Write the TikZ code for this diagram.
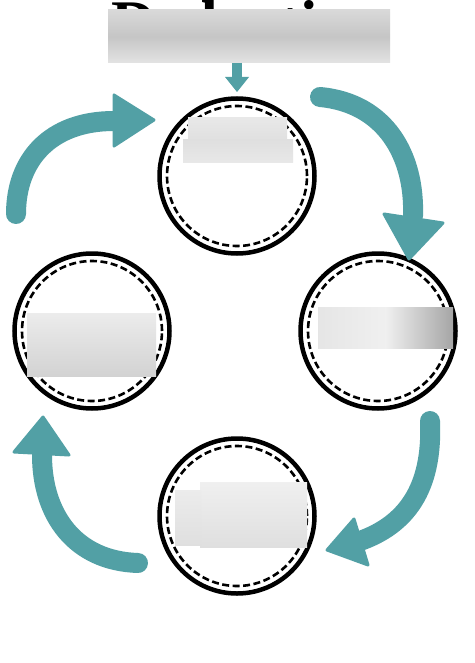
\documentclass[tikz,border=0pt]{standalone}
\usepackage{fontspec}
\setmainfont{Liberation Serif}
\definecolor{teal1}{RGB}{82,160,165}
\tikzset{
  ring/.style={circle, draw=black, line width=4.5pt, minimum size=155pt, inner sep=0pt, fill=white},
  dashring/.style={draw=black, line width=2.6pt, dash pattern=on 7pt off 3.5pt},
  shaft/.style={draw=teal1, line width=20pt, line cap=round},
  headtip/.style={fill=teal1, draw=teal1, line width=3pt, line join=round},
  blurbox/.style={draw=none},
}
\begin{document}
\begin{tikzpicture}[x=1pt,y=-1pt]
\useasboundingbox[fill=white] (0,0) rectangle (474,663);
% title (mostly covered)
\node[anchor=base west, inner sep=0pt, font=\fontsize{62}{70}\selectfont\bfseries] (title) at (111,44) {Deduction};
\shade[blurbox, top color=gray!30, bottom color=gray!22, middle color=gray!45] (108,10) rectangle (390,63);
\coordinate (tb) at (237,63);
% circles
\node[ring] (c1) at (237,176) {};
\node[ring] (c2) at (378,331) {};
\node[ring] (c3) at (237,516) {};
\node[ring] (c4) at (92,331) {};
\foreach \c in {c1,c2,c3,c4} \draw[dashring] (\c.center) circle (70pt);
% blurred labels
\shade[blurbox, top color=gray!18, bottom color=gray!25] (188,118) rectangle (287,142);
\shade[blurbox, top color=gray!25, bottom color=gray!18] (183,140) rectangle (293,163);
\shade[blurbox, top color=gray!15, bottom color=gray!35] (27,313) rectangle (156,376);
\shade[blurbox, left color=gray!20, right color=gray!70, middle color=gray!12] (318,307) rectangle (453,348);
\shade[blurbox, top color=gray!12, bottom color=gray!25] (200,482) rectangle (307,547);
\shade[blurbox, top color=gray!15, bottom color=gray!25] (175,490) rectangle (201,545);
% small top arrow
\draw[draw=teal1, line width=10pt] (tb) -- (237,79);
\fill[teal1] (225,77) -- (249,77) -- (237,92) -- cycle;
% arrow coordinates
\coordinate (a1s) at (16,214);  \coordinate (a1e) at (114,121);
\coordinate (a2s) at (320,97);  \coordinate (a2e) at (413,216);
\coordinate (a3s) at (430,421); \coordinate (a3e) at (360,541);
\coordinate (a4s) at (138,563); \coordinate (a4e) at (42,455);
% top-left arrow
\draw[shaft] (a1s) .. controls (16,160) and (50,121) .. (a1e);
\draw[headtip] (114,95) -- (154,120) -- (114,146) -- cycle;
% top-right arrow
\draw[shaft] (a2s) .. controls (385,103) and (415,155) .. (a2e);
\draw[headtip] (384,214) -- (443,223) -- (409,259) -- cycle;
% bottom-right arrow
\draw[shaft] (a3s) .. controls (433,490) and (405,525) .. (a3e);
\draw[headtip] (354,519) -- (368,565) -- (327,550) -- cycle;
% bottom-left arrow
\draw[shaft] (a4s) .. controls (75,561) and (42,515) .. (a4e);
\draw[headtip] (14,452) -- (43,417) -- (69,455) -- cycle;
\end{tikzpicture}
\end{document}
